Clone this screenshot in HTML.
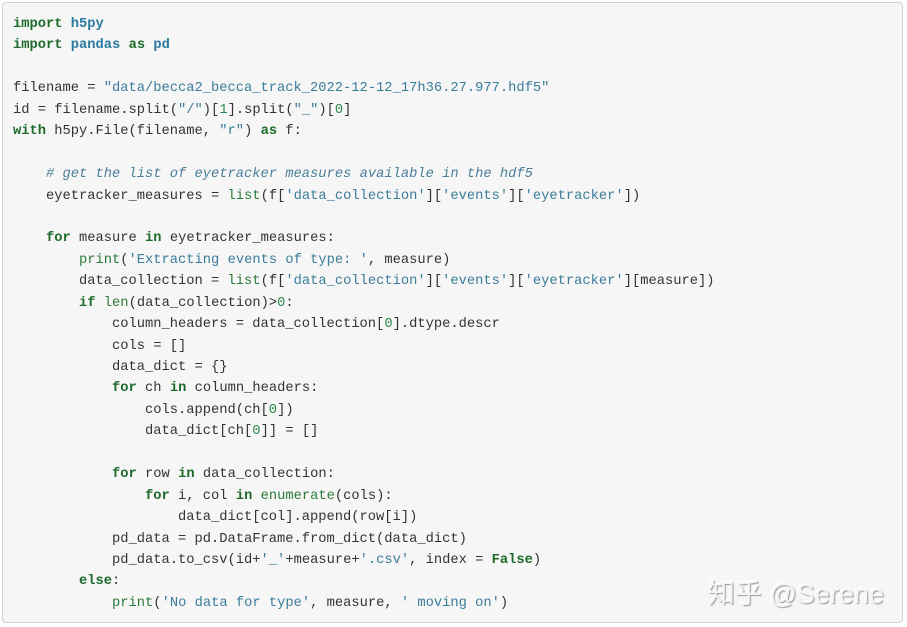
<!DOCTYPE html>
<html><head><meta charset="utf-8"><style>
body{margin:0;width:907px;height:627px;background:#fff;overflow:hidden}
.box{position:absolute;left:2px;top:2px;width:899px;height:619px;background:#f6f6f6;border:1px solid #d0d0d0;border-radius:4px}
pre{position:absolute;left:13px;top:14px;margin:0;font-family:"Liberation Mono",monospace;font-size:13.75px;line-height:21.44px;color:#333}
.k{color:#1d6b2a;font-weight:bold}
.m{color:#2a7aa0;font-weight:bold}
.s{color:#3a7c9a}
.c{color:#4a7e9a;font-style:italic}
.b{color:#2a7a3a}
.n{color:#2a8a4a}
.w{position:absolute;left:708px;top:572px;font-family:"Liberation Sans","Noto Sans CJK SC",sans-serif;font-size:27px;color:#f4f4f4;text-shadow:1px 1px 1px #999,-1px -1px 0 #fff}
</style></head><body>
<div class="box"></div>
<pre><span class="k">import</span> <span class="m">h5py</span>
<span class="k">import</span> <span class="m">pandas</span> <span class="k">as</span> <span class="m">pd</span>

filename = <span class="s">"data/becca2_becca_track_2022-12-12_17h36.27.977.hdf5"</span>
id = filename.split(<span class="s">"/"</span>)[<span class="n">1</span>].split(<span class="s">"_"</span>)[<span class="n">0</span>]
<span class="k">with</span> h5py.File(filename, <span class="s">"r"</span>) <span class="k">as</span> f:

    <span class="c"># get the list of eyetracker measures available in the hdf5</span>
    eyetracker_measures = <span class="b">list</span>(f[<span class="s">'data_collection'</span>][<span class="s">'events'</span>][<span class="s">'eyetracker'</span>])

    <span class="k">for</span> measure <span class="k">in</span> eyetracker_measures:
        <span class="b">print</span>(<span class="s">'Extracting events of type: '</span>, measure)
        data_collection = <span class="b">list</span>(f[<span class="s">'data_collection'</span>][<span class="s">'events'</span>][<span class="s">'eyetracker'</span>][measure])
        <span class="k">if</span> <span class="b">len</span>(data_collection)&gt;<span class="n">0</span>:
            column_headers = data_collection[<span class="n">0</span>].dtype.descr
            cols = []
            data_dict = {}
            <span class="k">for</span> ch <span class="k">in</span> column_headers:
                cols.append(ch[<span class="n">0</span>])
                data_dict[ch[<span class="n">0</span>]] = []

            <span class="k">for</span> row <span class="k">in</span> data_collection:
                <span class="k">for</span> i, col <span class="k">in</span> <span class="b">enumerate</span>(cols):
                    data_dict[col].append(row[i])
            pd_data = pd.DataFrame.from_dict(data_dict)
            pd_data.to_csv(id+<span class="s">'_'</span>+measure+<span class="s">'.csv'</span>, index = <span class="k">False</span>)
        <span class="k">else</span>:
            <span class="b">print</span>(<span class="s">'No data for type'</span>, measure, <span class="s">' moving on'</span>)</pre>
<div class="w">知乎 @Serene</div>
</body></html>
